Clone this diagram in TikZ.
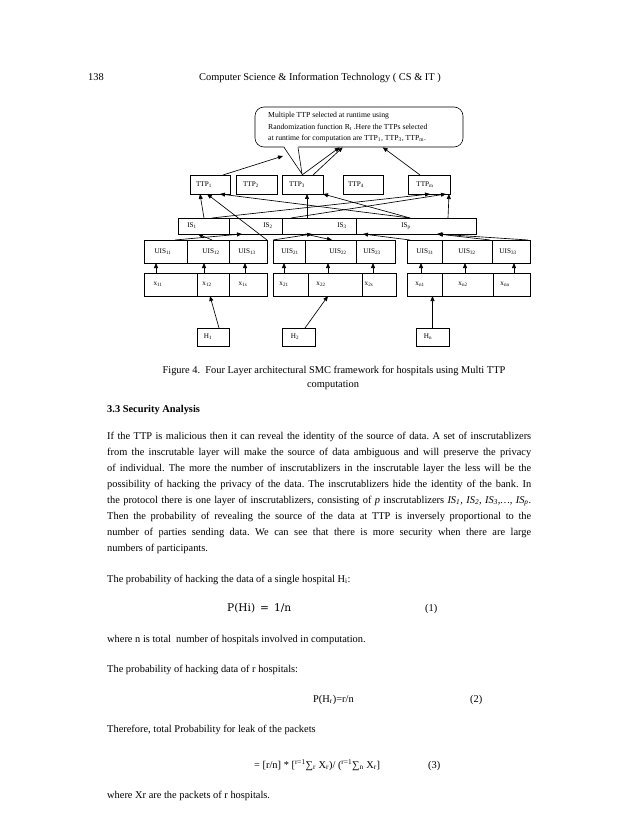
\documentclass[tikz,border=0pt]{standalone}
\usepackage{fontspec}
\setmainfont{Liberation Serif}
\newfontfamily\eqfont{DejaVu Serif}
\usetikzlibrary{arrows.meta}
\newcommand{\dbox}[7]{%
  \node[boxst, minimum width={(#4-#2)*1pt}, minimum height={(#5-#3)*1pt}] (#1) at ({(#2+#4)/2},{(#3+#5)/2}) {};
  \node[lbl] (#1l) at (#6,{(#3+#5)/2}) {#7};
}
\frenchspacing
\begin{document}
\frenchspacing
\begin{tikzpicture}[x=1pt,y=-1pt,
  boxst/.style={draw, line width=0.6pt, inner sep=0pt, outer sep=0pt},
  lbl/.style={inner sep=0pt, font=\fontsize{7.2}{8}\selectfont},
  arr/.style={-{Triangle[length=5pt,width=4pt]}, line width=0.65pt},
  txt/.style={anchor=base west, inner sep=0pt, font=\fontsize{10.4}{12}\selectfont},
  ctxt/.style={anchor=base, inner sep=0pt, font=\fontsize{10.4}{12}\selectfont},
  ctext/.style={anchor=base west, inner sep=0pt, font=\fontsize{7.7}{9}\selectfont},
]
\useasboundingbox[fill=white] (0,0) rectangle (638,826);

% header
\node[txt] (pgno) at (88,81) {138};
\node[ctxt] (hdr) at (320,81) {Computer Science \& Information Technology ( CS \& IT )};

% callout
\node[draw, rounded corners=9pt, minimum width=208, minimum height=40, line width=0.6pt, inner sep=0pt] (call) at (359,127) {};
\fill[white] (284,146) -- (302,174) -- (298,146) -- cycle;
\draw[line width=0.6pt] (284,147.3) -- (302,174) -- (298,147.3);
\node[ctext] (ct1) at (268,118) {Multiple TTP selected at runtime using};
\node[ctext] (ct2) at (268,129.5) {Randomization function R\textsubscript{t} .Here the TTPs selected};
\node[ctext] (ct3) at (268,141) {at runtime for computation are TTP\textsubscript{1}, TTP\textsubscript{3}, TTP\textsubscript{m}.};

% TTP row
\dbox{TTP1}{190}{175}{230}{194}{204}{TTP\textsubscript{1}}
\dbox{TTP2}{236}{175}{277}{194}{251}{TTP\textsubscript{2}}
\dbox{TTP3}{282}{175}{323}{194}{297}{TTP\textsubscript{3}}
\dbox{TTP4}{343}{175}{383}{194}{356}{TTP\textsubscript{4}}
\dbox{TTPm}{408}{175}{450}{194}{425}{TTP\textsubscript{m}}

% IS row
\dbox{IS1}{178}{218}{229}{234}{192}{IS\textsubscript{1}}
\dbox{IS2}{229}{218}{282}{234}{268}{IS\textsubscript{2}}
\dbox{IS3}{282}{218}{356}{234}{342}{IS\textsubscript{3}}
\dbox{ISp}{356}{218}{476}{234}{406}{IS\textsubscript{p}}

% UIS row
\dbox{UIS11}{144}{240}{187}{263}{163}{UIS\textsubscript{11}}
\dbox{UIS12}{187}{240}{229}{263}{211}{UIS\textsubscript{12}}
\dbox{UIS13}{229}{240}{267}{263}{247}{UIS\textsubscript{13}}
\dbox{UIS21}{273}{240}{305}{263}{290}{UIS\textsubscript{21}}
\dbox{UIS22}{305}{240}{356}{263}{338}{UIS\textsubscript{22}}
\dbox{UIS23}{356}{240}{395}{263}{372}{UIS\textsubscript{23}}
\dbox{UIS31}{407}{240}{442}{263}{425}{UIS\textsubscript{31}}
\dbox{UIS32}{442}{240}{492}{263}{467}{UIS\textsubscript{32}}
\dbox{UIS33}{492}{240}{530}{263}{508}{UIS\textsubscript{33}}

% x row
\dbox{x11}{144}{273}{197}{296}{158}{x\textsubscript{11}}
\dbox{x12}{197}{273}{229}{296}{207}{x\textsubscript{12}}
\dbox{x1s}{229}{273}{267}{296}{243}{x\textsubscript{1s}}
\dbox{x21}{273}{273}{308}{296}{284}{x\textsubscript{21}}
\dbox{x22}{308}{273}{362}{296}{321}{x\textsubscript{22}}
\dbox{x2s}{362}{273}{396}{296}{369}{x\textsubscript{2s}}
\dbox{xn1}{407}{273}{442}{296}{420}{x\textsubscript{n1}}
\dbox{xn2}{442}{273}{493}{296}{463}{x\textsubscript{n2}}
\dbox{xnn}{493}{273}{530}{296}{505}{x\textsubscript{nn}}

% H row
\dbox{H1}{197}{328}{229}{346}{208}{H\textsubscript{1}}
\dbox{H2}{282}{328}{315}{346}{295}{H\textsubscript{2}}
\dbox{Hn}{416}{328}{449}{346}{428}{H\textsubscript{n}}

% H -> x
\draw[arr] ([xshift=22]H1.north west) -- ([xshift=13]x12.south west);
\draw[arr] ([xshift=23]H2.north west) -- ([xshift=20]x22.south west);
\draw[arr] (Hn.north) -- ([xshift=25.5]xn1.south west);

% x -> UIS
\draw[arr] ([xshift=12]x11.north west) -- ([xshift=12]UIS11.south west);
\draw[arr] ([xshift=7]x12.north west) -- ([xshift=17]UIS12.south west);
\draw[arr] ([xshift=16]x1s.north west) -- ([xshift=16]UIS13.south west);
\draw[arr] ([xshift=11]x21.north west) -- ([xshift=11]UIS21.south west);
\draw[arr] ([xshift=20]x22.north west) -- ([xshift=23]UIS22.south west);
\draw[arr] ([xshift=11]x2s.north west) -- ([xshift=17]UIS23.south west);
\draw[arr] ([xshift=14]xn1.north west) -- ([xshift=14]UIS31.south west);
\draw[arr] ([xshift=23]xn2.north west) -- ([xshift=23]UIS32.south west);
\draw[arr] ([xshift=21]xnn.north west) -- ([xshift=22]UIS33.south west);

% UIS -> IS
\draw[arr] ([xshift=31]UIS11.north west) -- ([xshift=64]IS1.south west);
\draw[arr] ([xshift=25]UIS12.north west) -- ([xshift=20]IS1.south west);
\draw[arr] (UIS21.north west) -- ([xshift=30]IS3.south west);
\draw[arr] ([xshift=23]IS3.south west) -- ([xshift=27]UIS22.north west);
\draw[arr] ([xshift=3]UIS31.north west) -- ([xshift=7]ISp.south west);
\draw[arr] ([xshift=36]UIS33.north west) -- ([xshift=81]ISp.south west);
\draw[arr] ([xshift=48]UIS32.north west) -- ([xshift=82]ISp.south west);

% IS -> TTP
\draw[arr] ([xshift=26]IS1.north west) -- ([xshift=10]TTP1.south west);
\draw[arr] (UIS13.north east) -- ([xshift=17]TTP1.south west);
\draw[arr] ([xshift=34]IS1.north west) -- ([xshift=22]TTPm.south west);
\draw[arr] ([xshift=9]IS3.north west) -- ([xshift=38]TTPm.south west);
\draw[arr] ([xshift=25]IS3.north west) -- ([xshift=25]TTP3.south west);
\draw[arr] ([xshift=54]ISp.north west) -- ([xshift=30]TTP1.south west);
\draw[arr] ([xshift=54]ISp.north west) -- (TTP3.south east);
\draw[arr] ([xshift=92]ISp.north west) -- ([xshift=41]TTPm.south west);

% TTP -> callout
\coordinate (ce1) at (283,156);
\draw[arr] ([xshift=33]TTP1.north west) -- (ce1);
\draw[arr] ([xshift=20]TTP3.north west) -- ([xshift=85]call.south west);
\draw[arr] ([xshift=31]TTP3.north west) -- ([xshift=88]call.south west);
\draw[arr] ([xshift=12]TTPm.north west) -- ([xshift=128]call.south west);

% caption
\node[ctxt] (cap1) at (334,373) {Figure 4.\ \ Four Layer architectural SMC framework for hospitals using Multi TTP};
\node[ctxt] (cap2) at (333,387) {computation};

% section
\node[txt, font=\fontsize{10.4}{12}\selectfont\bfseries] (sec) at (107,412) {3.3 Security Analysis};

% paragraph
\node[txt] (p1) at (107,439) {\makebox[424pt][s]{If the TTP is malicious then it can reveal the identity of the source of data. A set of inscrutablizers}};
\node[txt] (p2) at (107,455) {\makebox[424pt][s]{from the inscrutable layer will make the source of data ambiguous and will preserve the privacy}};
\node[txt] (p3) at (107,471) {\makebox[424pt][s]{of individual. The more the number of inscrutablizers in the inscrutable layer the less will be the}};
\node[txt] (p4) at (107,487) {\makebox[424pt][s]{possibility of hacking the privacy of the data. The inscrutablizers hide the identity of the bank. In}};
\node[txt] (p5) at (107,503) {\makebox[424pt][s]{the protocol there is one layer of inscrutablizers, consisting of \textit{p} inscrutablizers \textit{IS\textsubscript{1}, IS\textsubscript{2}, IS\textsubscript{3},…, IS\textsubscript{p}}.}};
\node[txt] (p6) at (107,519) {\makebox[424pt][s]{Then the probability of revealing the source of the data at TTP is inversely proportional to the}};
\node[txt] (p7) at (107,535) {\makebox[424pt][s]{number of parties sending data. We can see that there is more security when there are large}};
\node[txt] (p8) at (107,551) {numbers of participants.};

\node[txt] (q1) at (107,582) {The probability of hacking the data of a single hospital H\textsubscript{i}:};
\node[txt, font=\fontsize{10.6}{12}\eqfont] (e1) at (227,611) {P(Hi)\hspace{5pt}=\hspace{5pt}1/n};
\node[txt] (e1n) at (425,611) {(1)};
\node[txt] (q2) at (107,642) {where n is total\ \ number of hospitals involved in computation.};
\node[txt] (q3) at (107,672) {The probability of hacking data of r hospitals:};
\node[txt] (e2) at (313,702) {P(H\textsubscript{r})=r/n};
\node[txt] (e2n) at (470,702) {(2)};
\node[txt] (q4) at (107,732) {Therefore, total Probability for leak of the packets};
\node[txt] (e3) at (254,768) {= [r/n] * [\textsuperscript{r=1}∑\textsubscript{r} X\textsubscript{r})/ (\textsuperscript{r=1}∑\textsubscript{n} X\textsubscript{r}]};
\node[txt] (e3n) at (428,768) {(3)};
\node[txt] (q5) at (107,798) {where Xr are the packets of r hospitals.};
\end{tikzpicture}
\end{document}
